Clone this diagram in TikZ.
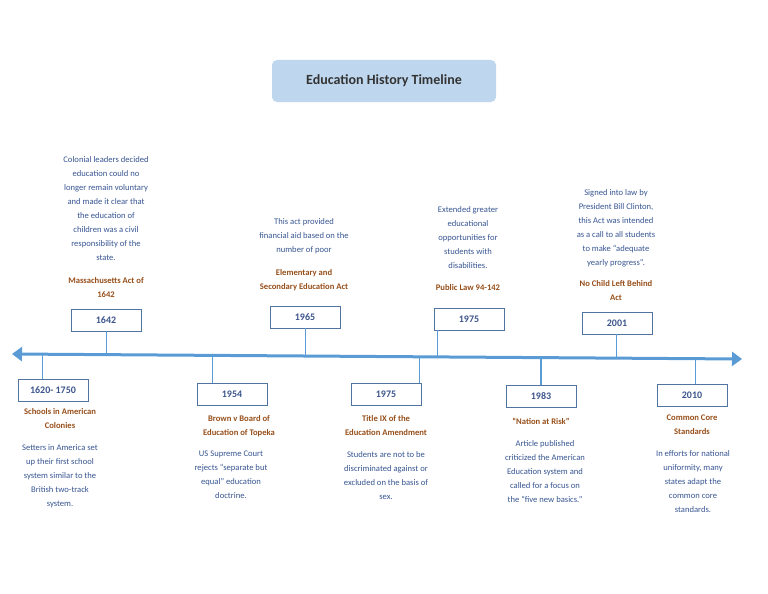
\documentclass[tikz,border=0pt]{standalone}
\usepackage{fontspec}
\setmainfont{Carlito}
\usetikzlibrary{arrows.meta}
\definecolor{lineblue}{RGB}{91,155,213}
\definecolor{boxedge}{RGB}{80,115,160}
\definecolor{yeartxt}{RGB}{60,85,140}
\definecolor{desc}{RGB}{55,85,145}
\definecolor{brown}{RGB}{150,78,25}
\definecolor{titlefill}{RGB}{190,215,238}
\tikzset{
  yearbox/.style={draw=boxedge,line width=0.8pt,minimum width=70pt,minimum height=22pt,inner sep=0pt,text=yeartxt,font=\fontsize{10}{12}\selectfont\bfseries},
  conn/.style={draw=lineblue,line width=1pt},
  desctxt/.style={text=desc,align=center,inner sep=0pt,anchor=north,font=\fontsize{8.6}{14}\selectfont},
  headtxt/.style={text=brown,align=center,inner sep=0pt,anchor=north,font=\fontsize{8.6}{14}\selectfont\bfseries},
}
\begin{document}
\begin{tikzpicture}[x=1pt,y=-1pt]
\useasboundingbox (0,0) rectangle (768,594);
\node[draw=none,fill=titlefill,rounded corners=5pt,minimum width=224pt,minimum height=42pt,font=\fontsize{14}{16}\selectfont\bfseries,text=black!80] (title) at (384,81) {Education History Timeline};
% main line
\coordinate (L) at (12,354);
\coordinate (R) at (742,359);
\draw[lineblue,line width=3pt,{Triangle[length=10pt,width=14pt]}-{Triangle[length=10pt,width=14pt]}] (L) -- (R);
% top boxes
\node[yearbox] (b1642) at (106,320) {1642};
\node[yearbox] (b1965) at (305,317) {1965};
\node[yearbox] (b1975t) at (469,319) {1975};
\node[yearbox] (b2001) at (617,323) {2001};
\coordinate (c1642) at (106,355);
\coordinate (c1965) at (305,356);
\coordinate (c1975t) at (437,357);
\coordinate (c2001) at (616,358);
\draw[conn] (b1642.south) -- (c1642);
\draw[conn] (b1965.south) -- (c1965);
\draw[conn] (b1975t.south -| c1975t) -- (c1975t);
\draw[conn] (b2001.south -| c2001) -- (c2001);
% bottom boxes
\node[yearbox] (b1620) at (53,390) {1620- 1750};
\node[yearbox] (b1954) at (232,394) {1954};
\node[yearbox] (b1975b) at (386,394) {1975};
\node[yearbox] (b1983) at (541,396) {1983};
\node[yearbox] (b2010) at (692,395) {2010};
\coordinate (c1620) at (42,354);
\coordinate (c1954) at (212,355);
\coordinate (c1975b) at (419,357);
\coordinate (c1983) at (541,358);
\coordinate (c2010) at (695,358);
\draw[conn] (b1620.north -| c1620) -- (c1620);
\draw[conn] (b1954.north -| c1954) -- (c1954);
\draw[conn] (b1975b.north -| c1975b) -- (c1975b);
\draw[conn,line width=2pt] (b1983.north) -- (c1983);
\draw[conn] (b2010.north -| c2010) -- (c2010);
% top texts
\node[desctxt] (d1642) at (106,156) {Colonial leaders decided\\education could no\\longer remain voluntary\\and made it clear that\\the education of\\children was a civil\\responsibility of the\\state.};
\node[headtxt] (h1642) at (106,277) {Massachusetts Act of\\1642};
\node[desctxt] (d1965) at (304,218) {This act provided\\financial aid based on the\\number of poor};
\node[headtxt] (h1965) at (304,269) {Elementary and\\Secondary Education Act};
\node[desctxt] (d1975t) at (468,206) {Extended greater\\educational\\opportunities for\\students with\\disabilities.};
\node[headtxt] (h1975t) at (468,284) {Public Law 94-142};
\node[desctxt] (d2001) at (616,189) {Signed into law by\\President Bill Clinton,\\this Act was intended\\as a call to all students\\to make “adequate\\yearly progress”.};
\node[headtxt] (h2001) at (616,280) {No Child Left Behind\\Act};
% bottom texts
\node[headtxt] (h1620) at (60,408) {Schools in American\\Colonies};
\node[desctxt] (d1620) at (60,444) {Setters in America set\\up their first school\\system similar to the\\British two-track\\system.};
\node[headtxt] (h1954) at (239,415) {Brown v Board of\\Education of Topeka};
\node[desctxt] (d1954) at (231,451) {US Supreme Court\\rejects “separate but\\equal” education\\doctrine.};
\node[headtxt] (h1975b) at (386,415) {Title IX of the\\Education Amendment};
\node[desctxt] (d1975b) at (386,451) {Students are not to be\\discriminated against or\\excluded on the basis of\\sex.};
\node[headtxt] (h1983) at (541,418) {“Nation at Risk”};
\node[desctxt] (d1983) at (545,440) {Article published\\criticized the American\\Education system and\\called for a focus on\\the “five new basics.”};
\node[headtxt] (h2010) at (692,415) {Common Core\\Standards};
\node[desctxt] (d2010) at (693,450) {In efforts for national\\uniformity, many\\states adapt the\\common core\\standards.};
\end{tikzpicture}
\end{document}
